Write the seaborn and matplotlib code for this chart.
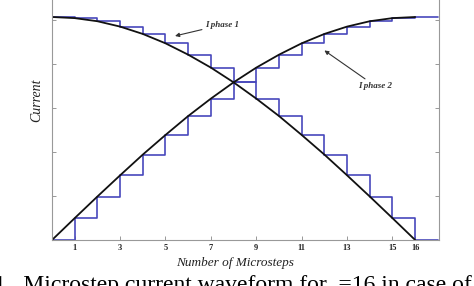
import numpy as np
import pandas as pd
import matplotlib
matplotlib.use("Agg")
import matplotlib.pyplot as plt
import seaborn as sns

# Data (current at each microstep 0..16)
steps = list(range(17))
phase1 = [1.000, 0.995, 0.981, 0.957, 0.924, 0.882, 0.831, 0.773, 0.707,
          0.634, 0.556, 0.471, 0.383, 0.290, 0.195, 0.098, 0.000]
phase2 = [0.000, 0.098, 0.195, 0.290, 0.383, 0.471, 0.556, 0.634, 0.707,
          0.773, 0.831, 0.882, 0.924, 0.957, 0.981, 0.995, 1.000]
xtick_labels = [1, 3, 5, 7, 9, 11, 13, 15, 16]

sns.set_theme(style="white")
plt.rcParams['font.family'] = ['Liberation Serif', 'DejaVu Serif']

fig = plt.figure(figsize=(4.74, 2.86), dpi=100)
ax = fig.add_axes([52/474, 1-240/286, (439-52)/474, 240/286])

# staircase data (hold last value to the right edge)
stair_x = steps + [17]
df_st = pd.DataFrame({
    "x": stair_x * 2,
    "y": phase1 + [phase1[-1]] + phase2 + [phase2[-1]],
    "s": ["p1"] * 18 + ["p2"] * 18,
})
df_c = pd.DataFrame({
    "x": steps * 2,
    "y": phase1 + phase2,
    "s": ["p1"] * 17 + ["p2"] * 17,
})

blue = "#4848bc"
for s in ["p1", "p2"]:
    d = df_st[df_st.s == s]
    sns.lineplot(data=d, x="x", y="y", ax=ax, color=blue, lw=1.2,
                 drawstyle="steps-post", estimator=None, sort=False, legend=False)
for s in ["p1", "p2"]:
    d = df_c[df_c.s == s]
    sns.lineplot(data=d, x="x", y="y", ax=ax, color="#111111", lw=1.3,
                 estimator=None, sort=False, legend=False)

ax.set_xlim(0, 17.05)
ax.set_ylim(0, 240 / 223)
ax.set_xticks(xtick_labels)
ax.set_xticklabels([str(v) for v in xtick_labels], fontsize=6, fontweight="bold")
ax.set_yticks([0.197, 0.395, 0.592, 0.79, 0.987])
ax.set_yticklabels([])
ax.tick_params(axis="both", direction="in", length=3, width=0.6, color="#888888",
               pad=3, right=True, left=True, bottom=True, labelcolor="#222222")
for side in ["left", "right", "bottom"]:
    ax.spines[side].set_color("#999999")
    ax.spines[side].set_linewidth(0.8)
ax.spines["top"].set_visible(False)
ax.set_xlabel("")
ax.set_ylabel("")

fig.text(37/474, 1-100/286, "Current", rotation=90, style="italic",
         fontsize=10, ha="center", va="center", color="#222222")
fig.text(235/474, 1-263/286, "Number of Microsteps", style="italic",
         fontsize=9.5, ha="center", va="center", color="#222222")

ax.annotate("I phase 1", xy=(5.42, 0.915), xytext=(6.75, 0.965),
            fontsize=6.5, style="italic", fontweight="bold", color="#333333",
            va="center", ha="left",
            arrowprops=dict(arrowstyle="-|>", color="#333333", lw=0.8,
                            mutation_scale=6, shrinkA=0, shrinkB=0))
ax.annotate("I phase 2", xy=(12.0, 0.85), xytext=(13.5, 0.69),
            fontsize=6.5, style="italic", fontweight="bold", color="#333333",
            va="center", ha="left",
            arrowprops=dict(arrowstyle="-|>", color="#333333", lw=0.8,
                            mutation_scale=6, shrinkA=0, shrinkB=0))

fig.text(-0.012, 0.038, "1.  Microstep current waveform for  =16 in case of",
         fontsize=17, ha="left", va="top", color="black")

fig.savefig("out.png", dpi=100)
